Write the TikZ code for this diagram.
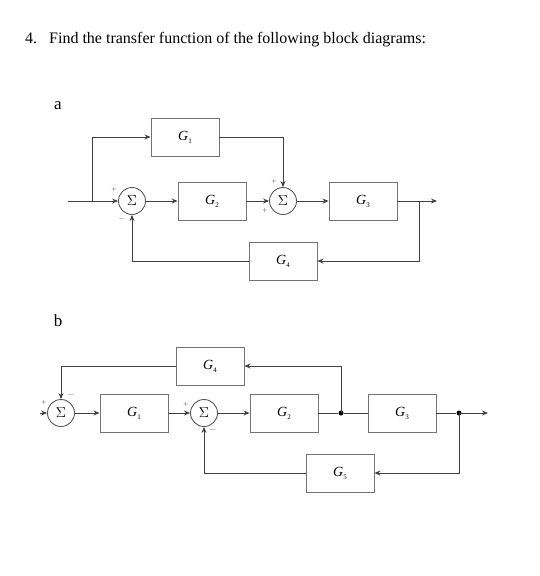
\documentclass[tikz,border=0pt]{standalone}
\usepackage{fontspec}
\setmainfont{Liberation Serif}
\usetikzlibrary{arrows.meta}
\newcommand{\gblk}[1]{\textit{G}\raisebox{-0.45ex}{\fontsize{7}{8}\selectfont #1}}
\begin{document}
\begin{tikzpicture}[x=1pt,y=-1pt,
  blk/.style={draw=black!55,line width=0.9pt,minimum width=68pt,minimum height=38pt,inner sep=0pt,font=\fontsize{14}{16}\selectfont},
  sumn/.style={draw=black!65,line width=0.9pt,circle,minimum size=27pt,inner sep=0pt,font=\fontsize{15}{17}\selectfont},
  ln/.style={draw=black!75,line width=0.9pt},
  arr/.style={ln,-{Stealth[length=6pt,width=5pt]}},
  sg/.style={font=\small,inner sep=0pt,text=black!60},
  dot/.style={circle,fill=black,inner sep=0pt,minimum size=5pt}]
\useasboundingbox (0,0) rectangle (540,576);
% title
\node[anchor=base west,inner sep=0pt,font=\fontsize{16}{18}\selectfont] (num) at (25,43) {4.};
\node[anchor=base west,inner sep=0pt,font=\fontsize{16}{18}\selectfont] (title) at (49,43) {Find the transfer function of the following block diagrams:};
% ---------- a ----------
\node[font=\fontsize{17}{19}\selectfont] (la) at (58,106) {a};
\coordinate (ina) at (68,201);
\coordinate (bra) at (92,201);
\node[sumn] (s1a) at (132,201) {$\Sigma$};
\node[blk] (g1a) at (185,137) {\gblk{1}};
\node[blk] (g2a) at (212,201) {\gblk{2}};
\node[sumn] (s2a) at (283,201) {$\Sigma$};
\node[blk] (g3a) at (363,201) {\gblk{3}};
\node[blk] (g4a) at (283,261) {\gblk{4}};
\coordinate (outa) at (437,201);
\coordinate (bra2) at (419,201);
\draw[arr] (ina) -- (s1a);
\draw[arr] (bra) |- (g1a);
\draw[arr] (s1a) -- (g2a);
\draw[arr] (g1a.east) -| (s2a.north);
\draw[arr] (g2a) -- (s2a);
\draw[arr] (s2a) -- (g3a);
\draw[arr] (g3a) -- (outa);
\draw[arr] (bra2) |- (g4a.east);
\draw[arr] (g4a.west) -| (s1a.south);
\node[sg] (pa1) at (114,190) {+};
\node[sg] (ma1) at (122,219) {$-$};
\node[sg] (pa2) at (274,182) {+};
\node[sg] (pa3) at (265,211) {+};
% ---------- b ----------
\node[font=\fontsize{17}{19}\selectfont] (lb) at (58,321) {b};
\coordinate (inb) at (40,413);
\node[sumn] (s1b) at (61,413) {$\Sigma$};
\node[blk] (g1b) at (134,413) {\gblk{1}};
\node[sumn] (s2b) at (204,413) {$\Sigma$};
\node[blk] (g2b) at (284,413) {\gblk{2}};
\node[blk] (g3b) at (402,413) {\gblk{3}};
\node[blk] (g4b) at (210,366) {\gblk{4}};
\node[blk] (g5b) at (340,473) {\gblk{5}};
\node[dot] (d1) at (341,413) {};
\node[dot] (d2) at (459,413) {};
\coordinate (outb) at (488,413);
\draw[arr] (inb) -- (s1b);
\draw[arr] (s1b) -- (g1b);
\draw[arr] (g1b) -- (s2b);
\draw[arr] (s2b) -- (g2b);
\draw[ln] (g2b) -- (d1) -- (g3b);
\draw[arr] (d1.center) |- (g4b.east);
\draw[arr] (g4b.west) -| (s1b.north);
\draw[ln] (g3b) -- (d2);
\draw[arr] (d2.center) -- (outb);
\draw[arr] (d2.center) |- (g5b.east);
\draw[arr] (g5b.west) -| (s2b.south);
\node[sg] (pb1) at (44,403) {+};
\node[sg] (mb1) at (71,395) {$-$};
\node[sg] (pb2) at (186,405) {+};
\node[sg] (mb2) at (213,430) {$-$};
\end{tikzpicture}
\end{document}
